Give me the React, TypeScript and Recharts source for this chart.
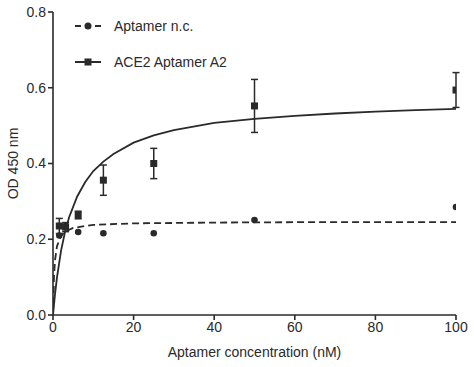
import React from "react";
import {
  ComposedChart,
  Line,
  Scatter,
  XAxis,
  YAxis,
  ErrorBar,
} from "recharts";

// Measured points
const concentrations = [1.5625, 3.125, 6.25, 12.5, 25, 50, 100];
const a2Values = [0.235, 0.232, 0.264, 0.356, 0.4, 0.552, 0.594];
const a2Errors = [0.02, 0.012, 0.01, 0.04, 0.04, 0.07, 0.046];
const ncValues = [0.21, 0.235, 0.219, 0.216, 0.216, 0.251, 0.285];

// Fitted curves
const a2FitX = [0, 0.5, 1, 2, 3, 4, 6, 8, 10, 12.5, 15, 20, 25, 30, 40, 50, 60, 70, 80, 90, 100];
const a2FitY = [0, 0.055, 0.1, 0.17, 0.22, 0.258, 0.313, 0.351, 0.38, 0.405, 0.425, 0.455, 0.474, 0.488, 0.507, 0.518, 0.526, 0.532, 0.537, 0.541, 0.544];
const ncFitX = [0, 0.25, 0.5, 1, 2, 3, 5, 10, 20, 40, 60, 100];
const ncFitY = [0, 0.1025, 0.145, 0.182, 0.209, 0.22, 0.23, 0.238, 0.242, 0.244, 0.245, 0.245];

const xTicks = [0, 20, 40, 60, 80, 100];
const yTicks = [0, 0.2, 0.4, 0.6, 0.8];
const legendLabels = ["Aptamer n.c.", "ACE2 Aptamer A2"];

const a2Points = concentrations.map((x, i) => ({ x, y: a2Values[i], err: a2Errors[i] }));
const ncPoints = concentrations.map((x, i) => ({ x, y: ncValues[i] }));
const a2Fit = a2FitX.map((x, i) => ({ x, y: a2FitY[i] }));
const ncFit = ncFitX.map((x, i) => ({ x, y: ncFitY[i] }));

const INK = "#2a2a2a";
const FONT = "'Liberation Sans', Arial, sans-serif";

const Square = (props: any) => {
  const { cx, cy } = props;
  if (cx == null || cy == null) return null;
  return <rect x={cx - 3.5} y={cy - 3.5} width={7} height={7} fill={INK} />;
};
const Dot = (props: any) => {
  const { cx, cy } = props;
  if (cx == null || cy == null) return null;
  return <circle cx={cx} cy={cy} r={3.3} fill={INK} />;
};

const LegendOverlay = () => (
  <svg
    width={240}
    height={60}
    style={{ position: "absolute", left: 70, top: 13, overflow: "visible" }}
  >
    <g>
      <line x1={5} y1={13} x2={11} y2={13} stroke={INK} strokeWidth={2} />
      <line x1={25} y1={13} x2={31} y2={13} stroke={INK} strokeWidth={2} />
      <circle cx={18} cy={13} r={3.5} fill={INK} />
      <text x={44} y={18} fontSize={14} fontFamily={FONT} fill={INK}>
        {legendLabels[0]}
      </text>
    </g>
    <g>
      <line x1={5} y1={49} x2={31} y2={49} stroke={INK} strokeWidth={2} />
      <rect x={14.5} y={45.5} width={7} height={7} fill={INK} />
      <text x={44} y={54} fontSize={14} fontFamily={FONT} fill={INK}>
        {legendLabels[1]}
      </text>
    </g>
  </svg>
);

export default function App() {
  return (
    <div style={{ position: "absolute", left: 0, top: 0, background: "#fff", width: 474, height: 367 }}>
      <ComposedChart
        width={474}
        height={367}
        margin={{ top: 12, right: 18, bottom: 0, left: 0 }}
      >
        <XAxis
          type="number"
          dataKey="x"
          domain={[0, 100]}
          ticks={xTicks}
          allowDataOverflow
          height={52}
          stroke={INK}
          strokeWidth={1.6}
          tickSize={5}
          tick={{ fill: INK, fontSize: 14, fontFamily: FONT }}
          label={{
            value: "Aptamer concentration (nM)",
            position: "insideBottom",
            offset: 10,
            fill: INK,
            fontSize: 14,
            fontFamily: FONT,
          }}
        />
        <YAxis
          type="number"
          dataKey="y"
          domain={[0, 0.8]}
          ticks={yTicks}
          allowDataOverflow
          width={53}
          stroke={INK}
          strokeWidth={1.6}
          tickSize={5}
          tickFormatter={(v: number) => v.toFixed(1)}
          tick={{ fill: INK, fontSize: 14, fontFamily: FONT }}
          label={{
            value: "OD 450 nm",
            angle: -90,
            position: "insideLeft",
            offset: 13,
            style: { textAnchor: "middle" },
            fill: INK,
            fontSize: 14,
            fontFamily: FONT,
          }}
        />
        <Line
          data={ncFit}
          dataKey="y"
          type="linear"
          dot={false}
          stroke={INK}
          strokeWidth={1.8}
          strokeDasharray="7 4"
          isAnimationActive={false}
          legendType="none"
        />
        <Line
          data={a2Fit}
          dataKey="y"
          type="linear"
          dot={false}
          stroke={INK}
          strokeWidth={1.8}
          isAnimationActive={false}
          legendType="none"
        />
        <Scatter
          data={ncPoints}
          dataKey="y"
          shape={Dot}
          isAnimationActive={false}
          legendType="none"
        />
        <Scatter
          data={a2Points}
          dataKey="y"
          shape={Square}
          isAnimationActive={false}
          legendType="none"
        >
          <ErrorBar dataKey="err" direction="y" width={3.5} stroke={INK} strokeWidth={1.5} />
        </Scatter>
      </ComposedChart>
      <LegendOverlay />
    </div>
  );
}
